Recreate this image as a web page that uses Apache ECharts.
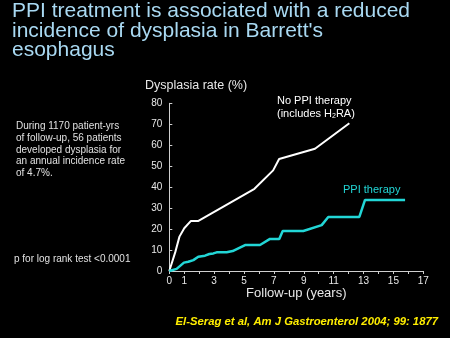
<!DOCTYPE html>
<html>
<head>
<meta charset="utf-8">
<script src="https://cdn.jsdelivr.net/npm/echarts@6/dist/echarts.min.js"></script>
<style>
html,body{margin:0;padding:0;background:#000;}
#chart{width:450px;height:338px;}
</style>
</head>
<body>
<div id="chart"></div>
<script>
// Data
var noPpiYears = [0, 0.4, 0.68, 1.0, 1.45, 1.95, 5.7, 6.95, 7.35, 9.75, 12.05];
var noPpiRates = [0, 9.0, 16.4, 20.4, 23.9, 23.9, 39.2, 48.0, 53.4, 58.3, 70.5];

var ppiYears = [0, 0.49, 0.98, 1.27, 1.61, 1.94, 2.39, 2.68, 2.95, 3.06, 3.17, 3.84, 4.24, 5.07, 6.07, 6.74, 7.36, 7.59, 8.97, 10.2, 10.64, 12.72, 13.1, 15.78];
var ppiRates = [0, 1.0, 4.0, 4.4, 5.2, 6.8, 7.3, 8.1, 8.4, 7.8, 8.9, 8.9, 9.5, 12.4, 12.4, 15.3, 15.3, 19.1, 19.1, 21.9, 25.8, 25.8, 33.9, 33.9];

var xTickLabels = ['0', '1', '3', '5', '7', '9', '11', '13', '15', '17'];
var yTickLabels = ['0', '10', '20', '30', '40', '50', '60', '70', '80'];

var titleText = "PPI treatment is associated with a reduced\nincidence of dysplasia in Barrett's\nesophagus";
var noteText = "During 1170 patient-yrs\nof follow-up, 56 patients\ndeveloped dysplasia for\nan annual incidence rate\nof 4.7%.";
var pText = "p for log rank test <0.0001";
var citeText = "El-Serag et al, Am J Gastroenterol 2004; 99: 1877";

function pairs(xs, ys){ return xs.map(function(x,i){ return [x, ys[i]]; }); }

var chart = echarts.init(document.getElementById('chart'), null, {renderer:'canvas'});
var font = 'Liberation Sans, Arial, Helvetica, sans-serif';
chart.setOption({
  backgroundColor: '#000',
  animation: false,
  title: {
    text: titleText,
    left: 12, top: 1.5, padding: 0,
    textStyle: {color: '#a9d9f2', fontSize: 21, fontWeight: 'normal', fontFamily: font, lineHeight: 19.6}
  },
  grid: {left: 169.3, right: 26.7, top: 103.3, bottom: 67, containLabel: false},
  xAxis: {
    type: 'value', min: 0, max: 17, interval: 1,
    axisLine: {lineStyle: {color: '#d0d0d0', width: 1}},
    axisTick: {show: true, inside: false, length: 3, lineStyle: {color: '#d0d0d0'}},
    axisLabel: {
      color: '#e8e8e8', fontSize: 10, fontFamily: font, margin: 5,
      formatter: function(v){ var s = String(v); return xTickLabels.indexOf(s) >= 0 ? s : ''; }
    },
    splitLine: {show: false},
    name: 'Follow-up (years)', nameLocation: 'middle', nameGap: 16,
    nameTextStyle: {color: '#e8e8e8', fontSize: 13, fontFamily: font}
  },
  yAxis: {
    type: 'value', min: 0, max: 80, interval: 10,
    axisLine: {show: true, lineStyle: {color: '#d0d0d0', width: 1}},
    axisTick: {show: true, inside: true, length: 3, lineStyle: {color: '#d0d0d0'}},
    axisLabel: {
      color: '#e8e8e8', fontSize: 10, fontFamily: font, margin: 7,
      formatter: function(v){ var s = String(v); return yTickLabels.indexOf(s) >= 0 ? s : ''; }
    },
    splitLine: {show: false}
  },
  graphic: [
    {type: 'text', left: 145, top: 79, style: {text: 'Dysplasia rate (%)', fill: '#e8e8e8', font: '12.5px ' + font}},
    {type: 'text', left: 277, top: 95, style: {text: 'No PPI therapy', fill: '#ffffff', font: '11px ' + font}},
    {type: 'text', left: 277, top: 108, style: {
      rich: {n: {fill:'#ffffff', font: '11px ' + font}, s: {fill:'#ffffff', font: '7px ' + font, padding:[6,0,0,0]}},
      text: '{n|(includes H}{s|2}{n|RA)}'}},
    {type: 'text', left: 343, top: 184, style: {text: 'PPI therapy', fill: '#22d6d6', font: '11px ' + font}},
    {type: 'text', left: 16, top: 120, style: {text: noteText, fill: '#e0e0e0', font: '10px ' + font, lineHeight: 11.9}},
    {type: 'text', left: 14, top: 254, style: {text: pText, fill: '#e0e0e0', font: '10px ' + font}},
    {type: 'text', right: 12, top: 316.5, style: {text: citeText, fill: '#ffee00', font: 'italic bold 11.3px ' + font}}
  ],
  series: [
    {type: 'line', data: pairs(noPpiYears, noPpiRates), showSymbol: false, symbol: 'none',
     lineStyle: {color: '#ffffff', width: 2}, z: 3},
    {type: 'line', data: pairs(ppiYears, ppiRates), showSymbol: false, symbol: 'none',
     lineStyle: {color: '#22d6d6', width: 2.5}, z: 3}
  ]
});
</script>
</body>
</html>
